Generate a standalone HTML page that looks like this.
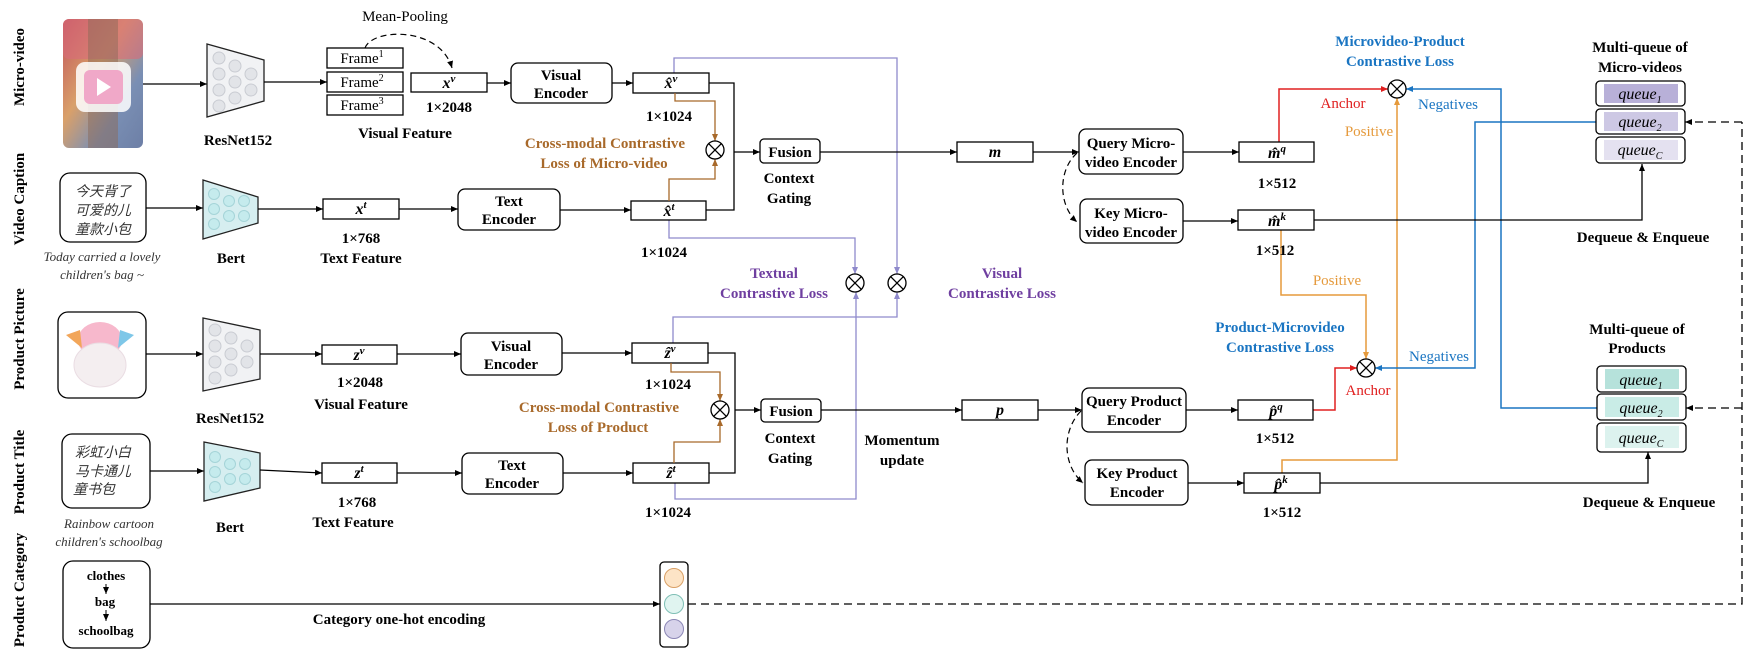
<!DOCTYPE html>
<html><head><meta charset="utf-8"><style>
html,body{margin:0;padding:0;background:#fff;}
svg{display:block;}
text{font-family:"Liberation Serif","Noto Serif CJK SC",serif;}
.b{font-weight:bold;font-size:15px;}
.enc{font-weight:bold;font-size:15px;}
.m{font-style:italic;font-weight:bold;font-size:16px;}
.q{font-style:italic;font-size:16px;}
.cn{font-family:"Liberation Serif","Noto Sans CJK SC",sans-serif;font-style:italic;font-size:14px;fill:#333;}
</style></head><body>
<svg width="1758" height="669" viewBox="0 0 1758 669" xmlns="http://www.w3.org/2000/svg">
<defs>
<marker id="ak" markerWidth="8" markerHeight="8" refX="7" refY="4" orient="auto" markerUnits="userSpaceOnUse"><path d="M0,1 L7,4 L0,7 z" fill="#000"/></marker>
<marker id="ab" markerWidth="8" markerHeight="8" refX="7" refY="4" orient="auto" markerUnits="userSpaceOnUse"><path d="M0,1 L7,4 L0,7 z" fill="#1a75c2"/></marker>
<marker id="ar" markerWidth="8" markerHeight="8" refX="7" refY="4" orient="auto" markerUnits="userSpaceOnUse"><path d="M0,1 L7,4 L0,7 z" fill="#e02020"/></marker>
<marker id="ao" markerWidth="8" markerHeight="8" refX="7" refY="4" orient="auto" markerUnits="userSpaceOnUse"><path d="M0,1 L7,4 L0,7 z" fill="#e59a3c"/></marker>
<marker id="abr" markerWidth="8" markerHeight="8" refX="7" refY="4" orient="auto" markerUnits="userSpaceOnUse"><path d="M0,1 L7,4 L0,7 z" fill="#a8692a"/></marker>
<marker id="ap" markerWidth="8" markerHeight="8" refX="7" refY="4" orient="auto" markerUnits="userSpaceOnUse"><path d="M0,1 L7,4 L0,7 z" fill="#8f8acc"/></marker>
<linearGradient id="vid" x1="0" y1="0" x2="1" y2="1"><stop offset="0" stop-color="#c0525a"/><stop offset="0.4" stop-color="#d9a06a"/><stop offset="0.7" stop-color="#7a8fb4"/><stop offset="1" stop-color="#6d7fa6"/></linearGradient>
</defs>

<!-- side labels -->
<g class="b" font-size="16" text-anchor="middle">
<text transform="translate(24,67) rotate(-90)" class="b" font-size="16">Micro-video</text>
<text transform="translate(24,199) rotate(-90)" class="b" font-size="16">Video Caption</text>
<text transform="translate(24,339) rotate(-90)" class="b" font-size="16">Product Picture</text>
<text transform="translate(24,472) rotate(-90)" class="b" font-size="16">Product Title</text>
<text transform="translate(24,590) rotate(-90)" class="b" font-size="16">Product Category</text>
</g>

<!-- micro video image -->
<rect x="63" y="19" width="80" height="129" rx="6" fill="url(#vid)"/>
<rect x="63" y="19" width="80" height="40" rx="6" fill="#d86c7a" opacity="0.6"/>
<rect x="88" y="19" width="30" height="129" fill="#8b6a58" opacity="0.5"/>
<rect x="76" y="62" width="55" height="50" rx="9" fill="#fff" opacity="0.85"/>
<rect x="84" y="70" width="39" height="34" rx="6" fill="#f0a8c8"/>
<path d="M97,78 L111,87 L97,96 z" fill="#fff"/>
<line x1="143" y1="84" x2="207" y2="84" stroke="#000" stroke-width="1.3" marker-end="url(#ak)"/>

<!-- ResNet 1 -->
<g>
<path d="M207,44 L264,60 L264,101 L207,117 z" fill="#f1f2f4" stroke="#222" stroke-width="1.3"/>
<g fill="#e2e4e8" stroke="#c9ccd2"><circle cx="219" cy="58" r="6"/><circle cx="219" cy="74" r="6"/><circle cx="219" cy="90" r="6"/><circle cx="219" cy="106" r="6"/><circle cx="235" cy="66" r="6"/><circle cx="235" cy="82" r="6"/><circle cx="235" cy="98" r="6"/><circle cx="251" cy="74" r="6"/><circle cx="251" cy="90" r="6"/></g>
</g>
<text x="238" y="145" class="b" text-anchor="middle">ResNet152</text>
<line x1="264" y1="82" x2="327" y2="82" stroke="#000" stroke-width="1.3" marker-end="url(#ak)"/>

<!-- frames -->
<g stroke="#000" stroke-width="1.3" fill="#fff">
<rect x="327" y="48" width="76" height="20"/><rect x="327" y="72" width="76" height="20"/><rect x="327" y="95" width="76" height="20"/>
</g>
<g font-size="15" text-anchor="middle">
<text x="362" y="63">Frame<tspan font-size="10" dy="-6">1</tspan></text>
<text x="362" y="87">Frame<tspan font-size="10" dy="-6">2</tspan></text>
<text x="362" y="110">Frame<tspan font-size="10" dy="-6">3</tspan></text>
</g>
<text x="405" y="21" font-size="15" text-anchor="middle">Mean-Pooling</text>
<path d="M365,48 C372,28 440,26 452,68" fill="none" stroke="#000" stroke-width="1.2" stroke-dasharray="6,4" marker-end="url(#ak)"/>
<rect x="411" y="73" width="76" height="19" fill="#fff" stroke="#000" stroke-width="1.3"/>
<text x="449" y="88" class="m" text-anchor="middle">x<tspan font-size="11" dy="-6">v</tspan></text>
<text x="449" y="112" class="b" text-anchor="middle">1×2048</text>
<text x="405" y="138" class="b" text-anchor="middle">Visual Feature</text>
<line x1="487" y1="83" x2="511" y2="83" stroke="#000" stroke-width="1.3" marker-end="url(#ak)"/>
<rect x="511" y="63" width="101" height="40" rx="7" fill="#fff" stroke="#000" stroke-width="1.3"/>
<text x="561" y="80" class="enc" text-anchor="middle">Visual</text>
<text x="561" y="98" class="enc" text-anchor="middle">Encoder</text>
<line x1="612" y1="83" x2="633" y2="83" stroke="#000" stroke-width="1.3" marker-end="url(#ak)"/>

<!-- caption -->
<rect x="60" y="173" width="86" height="69" rx="10" fill="#fff" stroke="#000" stroke-width="1.3"/>
<text x="103" y="196" class="cn" text-anchor="middle">今天背了</text>
<text x="103" y="215" class="cn" text-anchor="middle">可爱的儿</text>
<text x="103" y="234" class="cn" text-anchor="middle">童款小包</text>
<text x="102" y="261" font-size="13" font-style="italic" fill="#333" text-anchor="middle">Today carried a lovely</text>
<text x="102" y="279" font-size="13" font-style="italic" fill="#333" text-anchor="middle">children's bag ~</text>
<line x1="146" y1="208" x2="203" y2="208" stroke="#000" stroke-width="1.3" marker-end="url(#ak)"/>
<path d="M203,180 L258,197 L258,223 L203,239 z" fill="#d6eef0" stroke="#222" stroke-width="1.3"/>
<g fill="#c5ebed" stroke="#a5d4d8"><circle cx="214" cy="194" r="5.5"/><circle cx="214" cy="209" r="5.5"/><circle cx="214" cy="224" r="5.5"/><circle cx="229" cy="201" r="5.5"/><circle cx="229" cy="216" r="5.5"/><circle cx="244" cy="201" r="5.5"/><circle cx="244" cy="216" r="5.5"/></g>
<text x="231" y="263" class="b" text-anchor="middle">Bert</text>
<line x1="258" y1="209" x2="323" y2="209" stroke="#000" stroke-width="1.3" marker-end="url(#ak)"/>
<rect x="323" y="199" width="76" height="20" fill="#fff" stroke="#000" stroke-width="1.3"/>
<text x="361" y="214" class="m" text-anchor="middle">x<tspan font-size="11" dy="-6">t</tspan></text>
<text x="361" y="243" class="b" text-anchor="middle">1×768</text>
<text x="361" y="263" class="b" text-anchor="middle">Text Feature</text>
<line x1="399" y1="209" x2="458" y2="209" stroke="#000" stroke-width="1.3" marker-end="url(#ak)"/>
<rect x="458" y="189" width="102" height="41" rx="7" fill="#fff" stroke="#000" stroke-width="1.3"/>
<text x="509" y="206" class="enc" text-anchor="middle">Text</text>
<text x="509" y="224" class="enc" text-anchor="middle">Encoder</text>
<line x1="560" y1="210" x2="631" y2="210" stroke="#000" stroke-width="1.3" marker-end="url(#ak)"/>

<!-- purple lines (behind) -->
<g fill="none" stroke="#8f8acc" stroke-width="1.3">
<path d="M674,73 L674,58 L897,58 L897,274" marker-end="url(#ap)"/>
<path d="M669,220 L669,238 L855,238 L855,274" marker-end="url(#ap)"/>
<path d="M673,343 L673,317 L897,317 L897,292" marker-end="url(#ap)"/>
<path d="M675,483 L675,499 L856,499 L856,292" marker-end="url(#ap)"/>
</g>

<!-- x hat boxes -->
<rect x="633" y="73" width="76" height="20" fill="#fff" stroke="#000" stroke-width="1.3"/>
<text x="671" y="88" class="m" text-anchor="middle">x̂<tspan font-size="11" dy="-6">v</tspan></text>
<text x="669" y="121" class="b" text-anchor="middle">1×1024</text>
<rect x="631" y="201" width="75" height="19" fill="#fff" stroke="#000" stroke-width="1.3"/>
<text x="669" y="216" class="m" text-anchor="middle">x̂<tspan font-size="11" dy="-6">t</tspan></text>
<text x="664" y="257" class="b" text-anchor="middle">1×1024</text>
<g fill="none" stroke="#000" stroke-width="1.3">
<path d="M709,83 L734,83 L734,210 L706,210"/>
<path d="M734,152 L760,152" marker-end="url(#ak)"/>
</g>
<g fill="none" stroke="#a8692a" stroke-width="1.3">
<path d="M675,93 L675,101 L715,101 L715,141" marker-end="url(#abr)"/>
<path d="M669,201 L669,179 L715,179 L715,159" marker-end="url(#abr)"/>
</g>
<g fill="#fff" stroke="#000" stroke-width="1.3"><circle cx="715" cy="150" r="9"/><path d="M708.6,143.6 L721.4,156.4 M721.4,143.6 L708.6,156.4"/></g>
<text x="605" y="148" class="b" fill="#a8692a" text-anchor="middle">Cross-modal Contrastive</text>
<text x="604" y="168" class="b" fill="#a8692a" text-anchor="middle">Loss of Micro-video</text>
<rect x="760" y="139" width="60" height="24" rx="4" fill="#fff" stroke="#000" stroke-width="1.3"/>
<text x="790" y="157" class="enc" font-size="16" text-anchor="middle">Fusion</text>
<text x="789" y="183" class="b" text-anchor="middle">Context</text>
<text x="789" y="203" class="b" text-anchor="middle">Gating</text>
<line x1="820" y1="152" x2="957" y2="152" stroke="#000" stroke-width="1.3" marker-end="url(#ak)"/>
<rect x="957" y="142" width="76" height="20" fill="#fff" stroke="#000" stroke-width="1.3"/>
<text x="995" y="157" class="m" text-anchor="middle">m</text>

<!-- contrastive circles -->
<g fill="#fff" stroke="#000" stroke-width="1.3"><circle cx="855" cy="283" r="9"/><path d="M848.6,276.6 L861.4,289.4 M861.4,276.6 L848.6,289.4"/>
<circle cx="897" cy="283" r="9"/><path d="M890.6,276.6 L903.4,289.4 M903.4,276.6 L890.6,289.4"/></g>
<text x="774" y="278" class="b" fill="#6f3fa0" text-anchor="middle">Textual</text>
<text x="774" y="298" class="b" fill="#6f3fa0" text-anchor="middle">Contrastive Loss</text>
<text x="1002" y="278" class="b" fill="#6f3fa0" text-anchor="middle">Visual</text>
<text x="1002" y="298" class="b" fill="#6f3fa0" text-anchor="middle">Contrastive Loss</text>

<!-- product picture -->
<rect x="58" y="312" width="88" height="86" rx="10" fill="#fff" stroke="#000" stroke-width="1.3"/>
<ellipse cx="100" cy="340" rx="22" ry="18" fill="#f7b8cc"/>
<ellipse cx="100" cy="365" rx="26" ry="22" fill="#f4eef0" stroke="#eadde3"/>
<path d="M66,335 L80,330 L82,348 z" fill="#f2a65a"/><path d="M134,335 L120,330 L118,348 z" fill="#7ec7e8"/>
<line x1="146" y1="354" x2="203" y2="354" stroke="#000" stroke-width="1.3" marker-end="url(#ak)"/>
<path d="M203,318 L260,330 L260,379 L203,391 z" fill="#f1f2f4" stroke="#222" stroke-width="1.3"/>
<g fill="#e2e4e8" stroke="#c9ccd2"><circle cx="215" cy="330" r="6"/><circle cx="215" cy="346" r="6"/><circle cx="215" cy="362" r="6"/><circle cx="215" cy="378" r="6"/><circle cx="231" cy="338" r="6"/><circle cx="231" cy="354" r="6"/><circle cx="231" cy="370" r="6"/><circle cx="247" cy="346" r="6"/><circle cx="247" cy="362" r="6"/></g>
<text x="230" y="423" class="b" text-anchor="middle">ResNet152</text>
<line x1="260" y1="354" x2="322" y2="354" stroke="#000" stroke-width="1.3" marker-end="url(#ak)"/>
<rect x="322" y="345" width="75" height="19" fill="#fff" stroke="#000" stroke-width="1.3"/>
<text x="359" y="360" class="m" text-anchor="middle">z<tspan font-size="11" dy="-6">v</tspan></text>
<text x="360" y="387" class="b" text-anchor="middle">1×2048</text>
<text x="361" y="409" class="b" text-anchor="middle">Visual Feature</text>
<line x1="397" y1="354" x2="461" y2="354" stroke="#000" stroke-width="1.3" marker-end="url(#ak)"/>
<rect x="461" y="333" width="101" height="42" rx="7" fill="#fff" stroke="#000" stroke-width="1.3"/>
<text x="511" y="351" class="enc" text-anchor="middle">Visual</text>
<text x="511" y="369" class="enc" text-anchor="middle">Encoder</text>
<line x1="562" y1="353" x2="632" y2="353" stroke="#000" stroke-width="1.3" marker-end="url(#ak)"/>

<!-- product title -->
<rect x="62" y="434" width="88" height="74" rx="10" fill="#fff" stroke="#000" stroke-width="1.3"/>
<text x="103" y="457" class="cn" text-anchor="middle">彩虹小白</text>
<text x="103" y="476" class="cn" text-anchor="middle">马卡通儿</text>
<text x="94" y="494" class="cn" text-anchor="middle">童书包</text>
<text x="109" y="528" font-size="13" font-style="italic" fill="#333" text-anchor="middle">Rainbow cartoon</text>
<text x="109" y="546" font-size="13" font-style="italic" fill="#333" text-anchor="middle">children's schoolbag</text>
<line x1="150" y1="471" x2="204" y2="471" stroke="#000" stroke-width="1.3" marker-end="url(#ak)"/>
<path d="M204,442 L260,453 L260,488 L204,501 z" fill="#d6eef0" stroke="#222" stroke-width="1.3"/>
<g fill="#c5ebed" stroke="#a5d4d8"><circle cx="215" cy="457" r="5.5"/><circle cx="215" cy="472" r="5.5"/><circle cx="215" cy="487" r="5.5"/><circle cx="230" cy="464" r="5.5"/><circle cx="230" cy="479" r="5.5"/><circle cx="245" cy="464" r="5.5"/><circle cx="245" cy="479" r="5.5"/></g>
<text x="230" y="532" class="b" text-anchor="middle">Bert</text>
<line x1="260" y1="470" x2="322" y2="473" stroke="#000" stroke-width="1.3" marker-end="url(#ak)"/>
<rect x="322" y="463" width="75" height="20" fill="#fff" stroke="#000" stroke-width="1.3"/>
<text x="359" y="478" class="m" text-anchor="middle">z<tspan font-size="11" dy="-6">t</tspan></text>
<text x="357" y="507" class="b" text-anchor="middle">1×768</text>
<text x="353" y="527" class="b" text-anchor="middle">Text Feature</text>
<line x1="397" y1="473" x2="462" y2="473" stroke="#000" stroke-width="1.3" marker-end="url(#ak)"/>
<rect x="462" y="453" width="101" height="41" rx="7" fill="#fff" stroke="#000" stroke-width="1.3"/>
<text x="512" y="470" class="enc" text-anchor="middle">Text</text>
<text x="512" y="488" class="enc" text-anchor="middle">Encoder</text>
<line x1="563" y1="473" x2="633" y2="473" stroke="#000" stroke-width="1.3" marker-end="url(#ak)"/>

<!-- z hat -->
<rect x="632" y="343" width="76" height="20" fill="#fff" stroke="#000" stroke-width="1.3"/>
<text x="670" y="358" class="m" text-anchor="middle">ẑ<tspan font-size="11" dy="-6">v</tspan></text>
<text x="668" y="389" class="b" text-anchor="middle">1×1024</text>
<rect x="633" y="463" width="76" height="20" fill="#fff" stroke="#000" stroke-width="1.3"/>
<text x="671" y="478" class="m" text-anchor="middle">ẑ<tspan font-size="11" dy="-6">t</tspan></text>
<text x="668" y="517" class="b" text-anchor="middle">1×1024</text>
<g fill="none" stroke="#000" stroke-width="1.3">
<path d="M708,353 L735,353 L735,473 L709,473"/>
<path d="M735,410 L761,410" marker-end="url(#ak)"/>
</g>
<g fill="none" stroke="#a8692a" stroke-width="1.3">
<path d="M671,363 L671,372 L720,372 L720,401" marker-end="url(#abr)"/>
<path d="M674,463 L674,442 L720,442 L720,419" marker-end="url(#abr)"/>
</g>
<g fill="#fff" stroke="#000" stroke-width="1.3"><circle cx="720" cy="410" r="9"/><path d="M713.6,403.6 L726.4,416.4 M726.4,403.6 L713.6,416.4"/></g>
<text x="599" y="412" class="b" fill="#a8692a" text-anchor="middle">Cross-modal Contrastive</text>
<text x="598" y="432" class="b" fill="#a8692a" text-anchor="middle">Loss of Product</text>
<rect x="761" y="399" width="60" height="23" rx="4" fill="#fff" stroke="#000" stroke-width="1.3"/>
<text x="791" y="416" class="enc" font-size="16" text-anchor="middle">Fusion</text>
<text x="790" y="443" class="b" text-anchor="middle">Context</text>
<text x="790" y="463" class="b" text-anchor="middle">Gating</text>
<text x="902" y="445" class="b" text-anchor="middle">Momentum</text>
<text x="902" y="465" class="b" text-anchor="middle">update</text>
<line x1="821" y1="410" x2="962" y2="410" stroke="#000" stroke-width="1.3" marker-end="url(#ak)"/>
<rect x="962" y="400" width="76" height="20" fill="#fff" stroke="#000" stroke-width="1.3"/>
<text x="1000" y="415" class="m" text-anchor="middle">p</text>

<!-- category -->
<rect x="63" y="561" width="87" height="87" rx="10" fill="#fff" stroke="#000" stroke-width="1.3"/>
<text x="106" y="580" font-size="13" font-weight="bold" text-anchor="middle">clothes</text>
<line x1="106" y1="584" x2="106" y2="594" stroke="#000" marker-end="url(#ak)"/>
<text x="105" y="606" font-size="13" font-weight="bold" text-anchor="middle">bag</text>
<line x1="106" y1="610" x2="106" y2="621" stroke="#000" marker-end="url(#ak)"/>
<text x="106" y="635" font-size="13" font-weight="bold" text-anchor="middle">schoolbag</text>
<line x1="150" y1="604" x2="660" y2="604" stroke="#000" stroke-width="1.3" marker-end="url(#ak)"/>
<text x="399" y="624" class="b" text-anchor="middle">Category one-hot encoding</text>
<rect x="660" y="562" width="28" height="85" rx="4" fill="#fff" stroke="#000" stroke-width="1.3"/>
<circle cx="674" cy="578" r="9.5" fill="#fde4c6" stroke="#d9a066"/>
<circle cx="674" cy="604" r="9.5" fill="#e0f4f0" stroke="#7fbfb5"/>
<circle cx="674" cy="629" r="9.5" fill="#d7d3ea" stroke="#8b86b5"/>
<path d="M688,604 L1742,604 L1742,122" fill="none" stroke="#000" stroke-width="1.3" stroke-dasharray="8,5"/>
<path d="M1742,122 L1685,122" fill="none" stroke="#000" stroke-width="1.3" stroke-dasharray="8,5" marker-end="url(#ak)"/>
<path d="M1742,408 L1686,408" fill="none" stroke="#000" stroke-width="1.3" stroke-dasharray="8,5" marker-end="url(#ak)"/>

<!-- encoders right -->
<line x1="1033" y1="152" x2="1079" y2="152" stroke="#000" stroke-width="1.3" marker-end="url(#ak)"/>
<rect x="1079" y="129" width="104" height="45" rx="7" fill="#fff" stroke="#000" stroke-width="1.3"/>
<text x="1131" y="148" class="enc" text-anchor="middle">Query Micro-</text>
<text x="1131" y="167" class="enc" text-anchor="middle">video Encoder</text>
<rect x="1080" y="199" width="103" height="44" rx="7" fill="#fff" stroke="#000" stroke-width="1.3"/>
<text x="1131" y="218" class="enc" text-anchor="middle">Key Micro-</text>
<text x="1131" y="237" class="enc" text-anchor="middle">video Encoder</text>
<path d="M1077,153 C1058,170 1058,205 1077,222" fill="none" stroke="#000" stroke-width="1.2" stroke-dasharray="6,4" marker-end="url(#ak)"/>
<line x1="1183" y1="152" x2="1239" y2="152" stroke="#000" stroke-width="1.3" marker-end="url(#ak)"/>
<line x1="1183" y1="221" x2="1238" y2="221" stroke="#000" stroke-width="1.3" marker-end="url(#ak)"/>

<line x1="1038" y1="410" x2="1082" y2="410" stroke="#000" stroke-width="1.3" marker-end="url(#ak)"/>
<rect x="1082" y="388" width="104" height="44" rx="7" fill="#fff" stroke="#000" stroke-width="1.3"/>
<text x="1134" y="406" class="enc" text-anchor="middle">Query Product</text>
<text x="1134" y="425" class="enc" text-anchor="middle">Encoder</text>
<rect x="1085" y="460" width="103" height="45" rx="7" fill="#fff" stroke="#000" stroke-width="1.3"/>
<text x="1137" y="478" class="enc" text-anchor="middle">Key Product</text>
<text x="1137" y="497" class="enc" text-anchor="middle">Encoder</text>
<path d="M1081,411 C1062,430 1062,465 1083,483" fill="none" stroke="#000" stroke-width="1.2" stroke-dasharray="6,4" marker-end="url(#ak)"/>
<line x1="1186" y1="410" x2="1238" y2="410" stroke="#000" stroke-width="1.3" marker-end="url(#ak)"/>
<line x1="1188" y1="483" x2="1244" y2="483" stroke="#000" stroke-width="1.3" marker-end="url(#ak)"/>

<!-- colored connectors -->
<g fill="none" stroke-width="1.5">
<path d="M1279,142 L1279,89 L1388,89" stroke="#e02020" marker-end="url(#ar)"/>
<path d="M1282,473 L1282,460 L1397,460 L1397,98" stroke="#e59a3c" marker-end="url(#ao)"/>
<path d="M1281,230 L1281,295 L1366,295 L1366,359" stroke="#e59a3c" marker-end="url(#ao)"/>
<path d="M1313,410 L1335,410 L1335,368 L1357,368" stroke="#e02020" marker-end="url(#ar)"/>
<path d="M1597,408 L1501,408 L1501,89 L1406,89" stroke="#1a75c2" marker-end="url(#ab)"/>
<path d="M1596,122 L1475,122 L1475,368 L1375,368" stroke="#1a75c2" marker-end="url(#ab)"/>
</g>
<g fill="none" stroke="#000" stroke-width="1.3">
<path d="M1314,220 L1642,220 L1642,164" marker-end="url(#ak)"/>
<path d="M1320,483 L1648,483 L1648,452" marker-end="url(#ak)"/>
</g>
<g fill="#fff" stroke="#000" stroke-width="1.3"><circle cx="1397" cy="89" r="9"/><path d="M1390.6,82.6 L1403.4,95.4 M1403.4,82.6 L1390.6,95.4"/>
<circle cx="1366" cy="368" r="9"/><path d="M1359.6,361.6 L1372.4,374.4 M1372.4,361.6 L1359.6,374.4"/></g>

<rect x="1239" y="142" width="75" height="20" fill="#fff" stroke="#000" stroke-width="1.3"/>
<text x="1277" y="158" class="m" text-anchor="middle">m̂<tspan font-size="11" dy="-6">q</tspan></text>
<text x="1277" y="188" class="b" text-anchor="middle">1×512</text>
<rect x="1238" y="210" width="76" height="20" fill="#fff" stroke="#000" stroke-width="1.3"/>
<text x="1277" y="226" class="m" text-anchor="middle">m̂<tspan font-size="11" dy="-6">k</tspan></text>
<text x="1275" y="255" class="b" text-anchor="middle">1×512</text>
<rect x="1238" y="400" width="75" height="20" fill="#fff" stroke="#000" stroke-width="1.3"/>
<text x="1276" y="416" class="m" text-anchor="middle">p̂<tspan font-size="11" dy="-6">q</tspan></text>
<text x="1275" y="443" class="b" text-anchor="middle">1×512</text>
<rect x="1244" y="473" width="76" height="20" fill="#fff" stroke="#000" stroke-width="1.3"/>
<text x="1281" y="489" class="m" text-anchor="middle">p̂<tspan font-size="11" dy="-6">k</tspan></text>
<text x="1282" y="517" class="b" text-anchor="middle">1×512</text>

<text x="1400" y="46" class="b" fill="#1a75c2" text-anchor="middle">Microvideo-Product</text>
<text x="1400" y="66" class="b" fill="#1a75c2" text-anchor="middle">Contrastive Loss</text>
<text x="1343" y="108" font-size="15" fill="#e02020" text-anchor="middle">Anchor</text>
<text x="1448" y="109" font-size="15" fill="#1a75c2" text-anchor="middle">Negatives</text>
<text x="1369" y="136" font-size="15" fill="#e59a3c" text-anchor="middle">Positive</text>
<text x="1337" y="285" font-size="15" fill="#e59a3c" text-anchor="middle">Positive</text>
<text x="1280" y="332" class="b" fill="#1a75c2" text-anchor="middle">Product-Microvideo</text>
<text x="1280" y="352" class="b" fill="#1a75c2" text-anchor="middle">Contrastive Loss</text>
<text x="1439" y="361" font-size="15" fill="#1a75c2" text-anchor="middle">Negatives</text>
<text x="1368" y="395" font-size="15" fill="#e02020" text-anchor="middle">Anchor</text>

<!-- queues -->
<text x="1640" y="52" class="b" text-anchor="middle">Multi-queue of</text>
<text x="1640" y="72" class="b" text-anchor="middle">Micro-videos</text>
<g stroke="#000" stroke-width="1.3">
<rect x="1596" y="81" width="89" height="25" rx="4" fill="#fff"/>
<rect x="1596" y="109" width="89" height="25" rx="4" fill="#fff"/>
<rect x="1596" y="137" width="89" height="26" rx="4" fill="#fff"/>
</g>
<rect x="1604" y="84" width="74" height="19" fill="#b8b0d8"/>
<rect x="1604" y="112" width="74" height="19" fill="#cdc8e4"/>
<rect x="1604" y="140" width="74" height="20" fill="#e4e1f0"/>
<text x="1640" y="99" class="q" text-anchor="middle">queue<tspan font-size="10" dy="4">1</tspan></text>
<text x="1640" y="127" class="q" text-anchor="middle">queue<tspan font-size="10" dy="4">2</tspan></text>
<text x="1640" y="155" class="q" text-anchor="middle">queue<tspan font-size="10" dy="4">C</tspan></text>
<text x="1643" y="242" class="b" text-anchor="middle">Dequeue &amp; Enqueue</text>

<text x="1637" y="334" class="b" text-anchor="middle">Multi-queue of</text>
<text x="1637" y="353" class="b" text-anchor="middle">Products</text>
<g stroke="#000" stroke-width="1.3">
<rect x="1597" y="366" width="89" height="26" rx="4" fill="#fff"/>
<rect x="1597" y="394" width="89" height="26" rx="4" fill="#fff"/>
<rect x="1597" y="423" width="89" height="29" rx="4" fill="#fff"/>
</g>
<rect x="1605" y="369" width="74" height="20" fill="#b6e2db"/>
<rect x="1605" y="397" width="74" height="20" fill="#c9ece6"/>
<rect x="1605" y="426" width="74" height="22" fill="#dcf2ee"/>
<text x="1641" y="385" class="q" text-anchor="middle">queue<tspan font-size="10" dy="4">1</tspan></text>
<text x="1641" y="413" class="q" text-anchor="middle">queue<tspan font-size="10" dy="4">2</tspan></text>
<text x="1641" y="443" class="q" text-anchor="middle">queue<tspan font-size="10" dy="4">C</tspan></text>
<text x="1649" y="507" class="b" text-anchor="middle">Dequeue &amp; Enqueue</text>
</svg>
</body></html>
